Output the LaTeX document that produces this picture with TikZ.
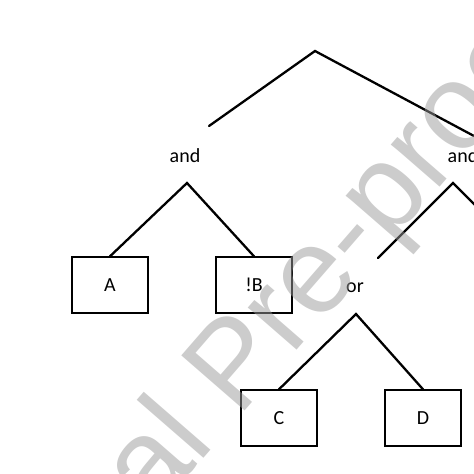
\documentclass[tikz,border=0pt]{standalone}
\usepackage{fontspec}
\setmainfont{Carlito}
\newfontfamily\markfont{Liberation Sans}
\usepackage{tikz}
\usetikzlibrary{positioning,calc}

\tikzset{
    opnode/.style={inner sep=1pt, font=\fontsize{20}{22}\selectfont},
    leafbox/.style={draw, line width=1.4pt, minimum width=76pt, minimum height=56pt,
        inner sep=0pt, font=\fontsize{20}{22}\selectfont},
    branch/.style={line width=2.3pt, line cap=round}
}

\begin{document}
\begin{tikzpicture}[x=1pt,y=-1pt]
    \useasboundingbox (0,0) rectangle (474,474);
    \clip (0,0) rectangle (474,474);

    % operator labels
    \node[opnode] (andL) at (185,156) {and};
    \node[opnode] (andR) at (463,156) {and};
    \node[opnode] (orN) at (355,288) {or};

    % leaves
    \node[leafbox] (A) at (110,285) {A};
    \node[leafbox] (notB) at (254,285) {!B};
    \node[leafbox] (C) at (279,418) {C};
    \node[leafbox] (D) at (423,418) {D};

    % branch points
    \coordinate (root) at (315,51);
    \coordinate (rootL) at (209,126);
    \coordinate (rootR) at (474,136);
    \coordinate (andLtop) at (187,183);
    \coordinate (andRtop) at (453,183);
    \coordinate (andRL) at (378,258);
    \coordinate (andRR) at (500,230);
    \coordinate (orTop) at (356,314);

    % tree
    \draw[branch] (rootL) -- (root) -- (rootR);
    \draw[branch] (A.north) -- (andLtop) -- (notB.north);
    \draw[branch] (andRL) -- (andRtop) -- (andRR);
    \draw[branch] (C.north) -- (orTop) -- (D.north);

    % watermark
    \node[rotate=49, anchor=base, text=black!40, text opacity=0.5,
        font=\markfont\fontsize{122}{122}\selectfont] (mark) at (263,390) {Journal Pre-proof};
\end{tikzpicture}
\end{document}
